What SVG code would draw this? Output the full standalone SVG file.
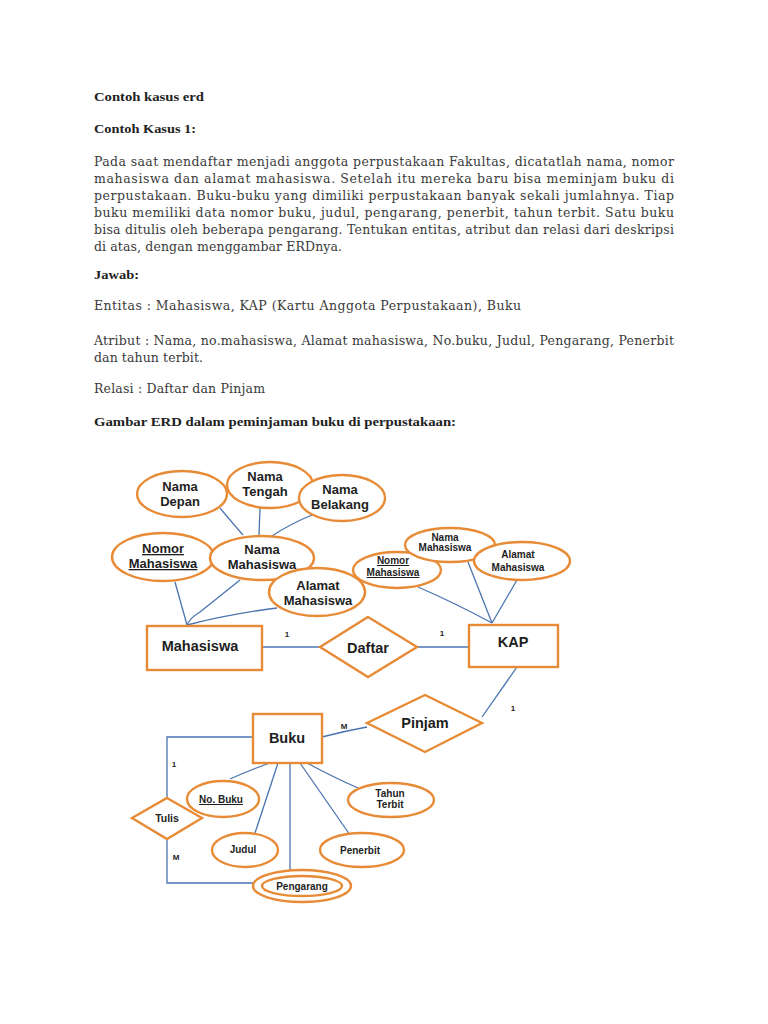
<svg xmlns="http://www.w3.org/2000/svg" width="768" height="1024" viewBox="0 0 768 1024">
<style>
.h{font-family:"Liberation Serif","Times New Roman",serif;font-weight:bold;font-size:13.5px;fill:#222}
.b{font-family:"DejaVu Serif","Liberation Serif",serif;font-size:12.5px;fill:#3a3a3a}
.shape{fill:#fff;stroke:#E88B37;stroke-width:2.4}
.ln{fill:none;stroke:#4A74B0;stroke-width:1.3}
.t{font-family:"Liberation Sans",Arial,sans-serif;font-weight:bold;fill:#1e1e1e;text-anchor:middle}
.s13{font-size:13px}.s14{font-size:14.5px}.s11{font-size:10.5px}.s10{font-size:10px}.s8{font-size:8px}
.u{text-decoration:underline}
</style>
<rect width="768" height="1024" fill="#fff"/>
<g id="text">
<text class="h" x="94" y="101" textLength="110" lengthAdjust="spacingAndGlyphs">Contoh kasus erd</text>
<text class="h" x="94" y="133" textLength="102" lengthAdjust="spacingAndGlyphs">Contoh Kasus 1:</text>
<text class="b" x="94" y="165.5" textLength="580" lengthAdjust="spacing">Pada saat mendaftar menjadi anggota perpustakaan Fakultas, dicatatlah nama, nomor</text>
<text class="b" x="94" y="182.5" textLength="580" lengthAdjust="spacing">mahasiswa dan alamat mahasiswa. Setelah itu mereka baru bisa meminjam buku di</text>
<text class="b" x="94" y="199.5" textLength="580" lengthAdjust="spacing">perpustakaan. Buku-buku yang dimiliki perpustakaan banyak sekali jumlahnya. Tiap</text>
<text class="b" x="94" y="216.5" textLength="580" lengthAdjust="spacing">buku memiliki data nomor buku, judul, pengarang, penerbit, tahun terbit. Satu buku</text>
<text class="b" x="94" y="233.5" textLength="580" lengthAdjust="spacing">bisa ditulis oleh beberapa pengarang. Tentukan entitas, atribut dan relasi dari deskripsi</text>
<text class="b" x="94" y="250.5" textLength="248" lengthAdjust="spacing">di atas, dengan menggambar ERDnya.</text>
<text class="h" x="94" y="279" textLength="45" lengthAdjust="spacingAndGlyphs">Jawab:</text>
<text class="b" x="94" y="309.5" textLength="427" lengthAdjust="spacing">Entitas : Mahasiswa, KAP (Kartu Anggota Perpustakaan), Buku</text>
<text class="b" x="94" y="344.5" textLength="580" lengthAdjust="spacing">Atribut : Nama, no.mahasiswa, Alamat mahasiswa, No.buku, Judul, Pengarang, Penerbit</text>
<text class="b" x="94" y="361.5" textLength="109" lengthAdjust="spacing">dan tahun terbit.</text>
<text class="b" x="94" y="392.5" textLength="171" lengthAdjust="spacing">Relasi : Daftar dan Pinjam</text>
<text class="h" x="94" y="426" textLength="362" lengthAdjust="spacingAndGlyphs">Gambar ERD dalam peminjaman buku di perpustakaan:</text>
</g>
<g id="connectors">
<path class="ln" d="M220,508 Q230,520 243,535"/>
<path class="ln" d="M260,508 L259,535"/>
<path class="ln" d="M312,515 Q290,524 272,536"/>
<path class="ln" d="M175,582 L187,625"/>
<path class="ln" d="M240,580 Q215,600 200,612 Q190,618 187,625"/>
<path class="ln" d="M277,608 Q230,614 187,625"/>
<path class="ln" d="M262,647 L320,647"/>
<path class="ln" d="M417,647 L469,647"/>
<path class="ln" d="M418,587 Q455,603 492,623"/>
<path class="ln" d="M468,562 L492,623"/>
<path class="ln" d="M517,580 L492,623"/>
<path class="ln" d="M517,667 L482,717"/>
<path class="ln" d="M322,737 Q345,731 367,727"/>
<path class="ln" d="M253,737 L167,737 L167,798"/>
<path class="ln" d="M167,839 L167,883 L255,883"/>
<path class="ln" d="M270,763 Q250,770 230,779"/>
<path class="ln" d="M278,763 L255,833"/>
<path class="ln" d="M290,763 L290,871"/>
<path class="ln" d="M300,763 L350,835"/>
<path class="ln" d="M307,763 Q335,778 358,788"/>
<text class="t s8" x="287" y="637">1</text>
<text class="t s8" x="442" y="636">1</text>
<text class="t s8" x="513" y="711">1</text>
<text class="t s8" x="344" y="729">M</text>
<text class="t s8" x="174" y="767">1</text>
<text class="t s8" x="176" y="860">M</text>
</g>
<g id="nama-depan"><ellipse class="shape" cx="182" cy="494" rx="45" ry="23"/><text class="t s13" x="180" y="491">Nama</text><text class="t s13" x="180" y="506">Depan</text></g>
<g id="nama-tengah"><ellipse class="shape" cx="270" cy="485" rx="43" ry="23"/><text class="t s13" x="265" y="481">Nama</text><text class="t s13" x="265" y="496">Tengah</text></g>
<g id="nama-belakang"><ellipse class="shape" cx="342" cy="498" rx="43" ry="23"/><text class="t s13" x="340" y="494">Nama</text><text class="t s13" x="340" y="509">Belakang</text></g>
<g id="nomor-mahasiswa"><ellipse class="shape" cx="163" cy="557" rx="51" ry="24"/><text class="t s13 u" x="163" y="553">Nomor</text><text class="t s13 u" x="163" y="568">Mahasiswa</text></g>
<g id="nama-mahasiswa"><ellipse class="shape" cx="262" cy="558" rx="52" ry="22"/><text class="t s13" x="262" y="554">Nama</text><text class="t s13" x="262" y="569">Mahasiswa</text></g>
<g id="alamat-mahasiswa"><ellipse class="shape" cx="317" cy="592" rx="48" ry="24"/><text class="t s13" x="318" y="590">Alamat</text><text class="t s13" x="318" y="605">Mahasiswa</text></g>
<g id="mahasiswa"><rect class="shape" x="147" y="626" width="115" height="44"/><text class="t s14" x="200" y="651">Mahasiswa</text></g>
<g id="daftar"><polygon class="shape" points="368,617 417,647 368,677 320,647"/><text class="t s14" x="368" y="653">Daftar</text></g>
<g id="kap-nomor-mahasiswa"><ellipse class="shape" cx="397" cy="570" rx="44" ry="18"/><text class="t s10 u" x="393" y="564">Nomor</text><text class="t s10 u" x="393" y="576">Mahasiswa</text></g>
<g id="kap-nama-mahasiswa"><ellipse class="shape" cx="450" cy="545" rx="45" ry="17"/><text class="t s10" x="445" y="541">Nama</text><text class="t s10" x="445" y="551">Mahasiswa</text></g>
<g id="kap-alamat-mahasiswa"><ellipse class="shape" cx="522" cy="561" rx="48" ry="19"/><text class="t s10" x="518" y="558">Alamat</text><text class="t s10" x="518" y="571">Mahasiswa</text></g>
<g id="kap"><rect class="shape" x="469" y="625" width="89" height="42"/><text class="t s14" x="513" y="647">KAP</text></g>
<g id="pinjam"><polygon class="shape" points="425,695 482,723 425,752 367,723"/><text class="t s14" x="425" y="728">Pinjam</text></g>
<g id="buku"><rect class="shape" x="253" y="714" width="69" height="49"/><text class="t s14" x="287" y="743">Buku</text></g>
<g id="tulis"><polygon class="shape" points="167,798 202,818 167,839 132,818"/><text class="t s11" x="167" y="822">Tulis</text></g>
<g id="no-buku"><ellipse class="shape" cx="223" cy="799" rx="36" ry="18"/><text class="t s10 u" x="221" y="803">No. Buku</text></g>
<g id="judul"><ellipse class="shape" cx="245" cy="850" rx="33" ry="17"/><text class="t s10" x="243" y="853">Judul</text></g>
<g id="tahun-terbit"><ellipse class="shape" cx="391" cy="800" rx="43" ry="17"/><text class="t s10" x="390" y="797">Tahun</text><text class="t s10" x="390" y="808">Terbit</text></g>
<g id="penerbit"><ellipse class="shape" cx="362" cy="850" rx="42" ry="17"/><text class="t s10" x="360" y="854">Penerbit</text></g>
<g id="pengarang"><ellipse class="shape" cx="302" cy="886" rx="49" ry="16"/><ellipse class="shape" cx="302" cy="886" rx="40" ry="10" stroke-width="2"/><text class="t s10" x="302" y="890">Pengarang</text></g>
</svg>
